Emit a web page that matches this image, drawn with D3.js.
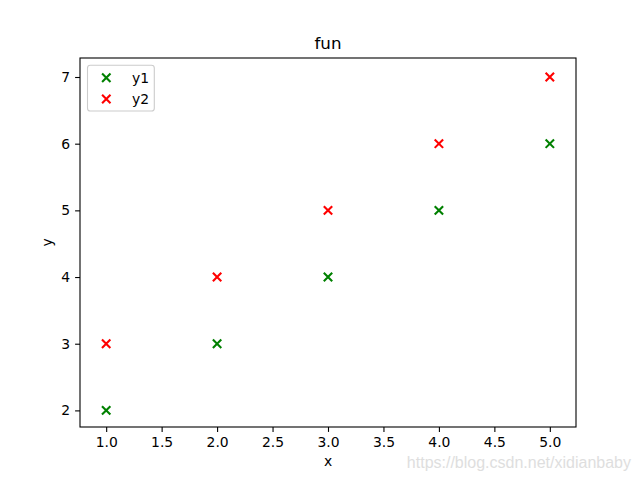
<!DOCTYPE html>
<html>
<head>
<meta charset="utf-8">
<script src="https://d3js.org/d3.v7.min.js"></script>
<style>
    body { margin: 0; background: #fff; }
    svg text { font-family: "DejaVu Sans", sans-serif; fill: #000; }
</style>
</head>
<body>
<script>
    // data
    const xs = [1, 2, 3, 4, 5];
    const y1 = [2, 3, 4, 5, 6];
    const y2 = [3, 4, 5, 6, 7];
    const xTicks = [1.0, 1.5, 2.0, 2.5, 3.0, 3.5, 4.0, 4.5, 5.0];
    const yTicks = [2, 3, 4, 5, 6, 7];
    const seriesNames = ["y1", "y2"];
    const seriesColors = ["#008000", "#ff0000"];

    const width = 640, height = 480;
    const margin = { left: 80, right: 64, top: 58, bottom: 53 };

    const svg = d3.select("body").append("svg")
        .attr("width", width)
        .attr("height", height);

    const x = d3.scaleLinear()
        .domain([0.764, 5.236])
        .range([margin.left, width - margin.right]);
    const y = d3.scaleLinear()
        .domain([1.751, 7.285])
        .range([height - margin.bottom, margin.top]);

    // axes
    const xAxis = svg.append("g")
        .attr("transform", "translate(0," + (height - margin.bottom) + ")")
        .call(d3.axisBottom(x).tickValues(xTicks).tickFormat(d3.format(".1f")).tickSize(4.9).tickPadding(4.9));
    const yAxis = svg.append("g")
        .attr("transform", "translate(" + margin.left + ",0)")
        .call(d3.axisLeft(y).tickValues(yTicks).tickFormat(d3.format("d")).tickSize(4.9).tickPadding(4.9));

    [xAxis, yAxis].forEach(function (g) {
        g.select(".domain").remove();
        g.selectAll(".tick line").attr("stroke", "#000").attr("stroke-width", 1.1);
        g.selectAll(".tick text").style("font-size", "13.9px").attr("fill", "#000");
    });

    // frame
    svg.append("rect")
        .attr("x", margin.left)
        .attr("y", margin.top)
        .attr("width", width - margin.left - margin.right)
        .attr("height", height - margin.top - margin.bottom)
        .attr("fill", "none")
        .attr("stroke", "#000")
        .attr("stroke-width", 1.1);

    // x markers
    function cross(g, cx, cy, color) {
        const r = 4.2;
        g.append("path")
            .attr("d", "M" + (cx - r) + "," + (cy - r) + "L" + (cx + r) + "," + (cy + r) +
                "M" + (cx - r) + "," + (cy + r) + "L" + (cx + r) + "," + (cy - r))
            .attr("stroke", color)
            .attr("stroke-width", 2.1)
            .attr("fill", "none");
    }

    const pts = svg.append("g");
    [y1, y2].forEach(function (ys, s) {
        xs.forEach(function (xv, i) {
            cross(pts, x(xv), y(ys[i]), seriesColors[s]);
        });
    });

    // title and labels
    svg.append("text")
        .attr("x", (margin.left + width - margin.right) / 2)
        .attr("y", 48.5)
        .attr("text-anchor", "middle")
        .style("font-size", "16.7px")
        .text("fun");

    svg.append("text")
        .attr("x", (margin.left + width - margin.right) / 2)
        .attr("y", 466)
        .attr("text-anchor", "middle")
        .style("font-size", "13.9px")
        .text("x");

    svg.append("text")
        .attr("transform", "translate(52," + ((margin.top + height - margin.bottom) / 2) + ") rotate(-90)")
        .attr("text-anchor", "middle")
        .style("font-size", "13.9px")
        .text("y");

    // legend
    const legend = svg.append("g");
    legend.append("rect")
        .attr("x", 87.5)
        .attr("y", 65.3)
        .attr("width", 66.8)
        .attr("height", 45.7)
        .attr("rx", 2.8)
        .attr("fill", "#fff")
        .attr("fill-opacity", 0.8)
        .attr("stroke", "#cccccc")
        .attr("stroke-width", 1.1);

    seriesNames.forEach(function (name, i) {
        const cy = 77.7 + i * 21.3;
        cross(legend, 106.3, cy, seriesColors[i]);
        legend.append("text")
            .attr("x", 132)
            .attr("y", cy + 5)
            .style("font-size", "13.9px")
            .text(name);
    });

    // watermark
    svg.append("text")
        .attr("x", 631)
        .attr("y", 468)
        .attr("text-anchor", "end")
        .style("font-family", "'Liberation Sans', Arial, sans-serif")
        .style("font-size", "16px")
        .style("fill", "#dedede")
        .text("https://blog.csdn.net/xidianbaby");
</script>
</body>
</html>
